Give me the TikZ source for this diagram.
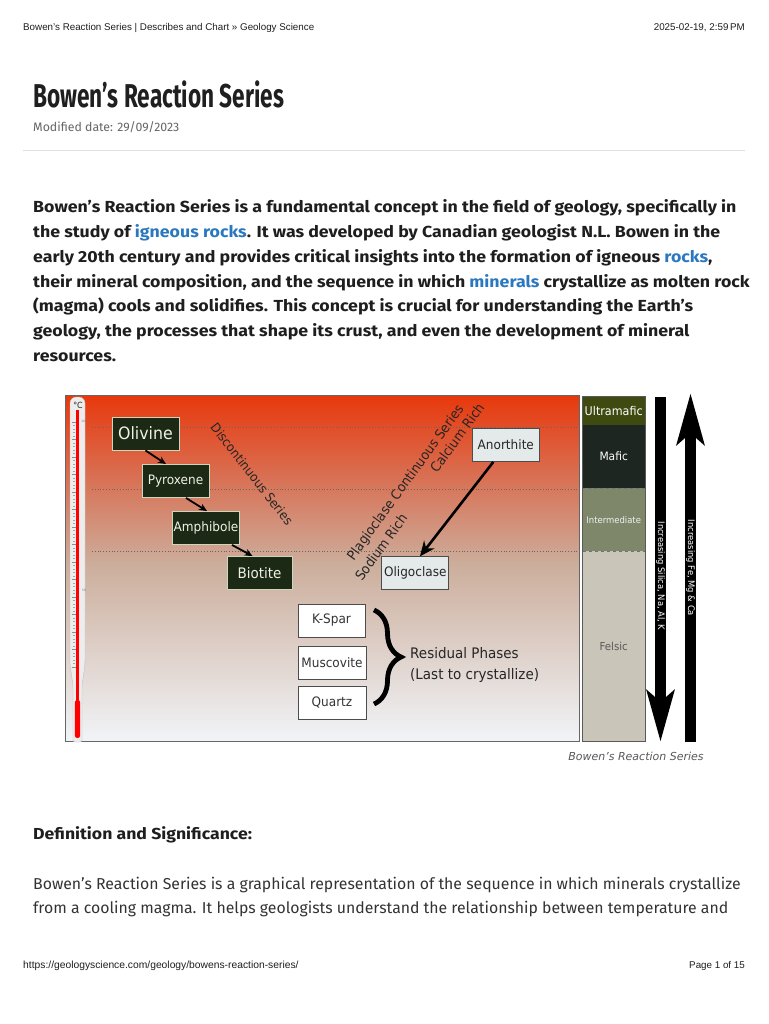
\documentclass[tikz,border=0pt]{standalone}
\usepackage{fontspec}
\usepackage{xcolor}
\setmainfont{Fira Sans}
\newfontfamily\introfont{Fira Sans}[FakeStretch=1.11]
\newfontfamily\headlinefont{Fira Sans}[FakeStretch=0.685]
\newfontfamily\printfont{Liberation Sans}
\newfontfamily\chartfont{DejaVu Sans}[FakeStretch=0.93]
\newfontfamily\captionfont{DejaVu Sans}
\usetikzlibrary{arrows.meta,decorations.pathreplacing}

\definecolor{linkblue}{HTML}{2A78BF}
\definecolor{inkgray}{HTML}{1E1E1E}
\definecolor{mossbox}{HTML}{1C2914}
\definecolor{mossline}{HTML}{CCD6BC}
\definecolor{mosstext}{HTML}{EEF2E6}
\definecolor{paleface}{HTML}{E4EAEA}
\definecolor{ultra}{HTML}{3E4A10}
\definecolor{ultraedge}{HTML}{93A046}
\definecolor{maficc}{HTML}{1D2621}
\definecolor{interc}{HTML}{7F876B}
\definecolor{felsicc}{HTML}{C9C5B9}
\definecolor{hot}{HTML}{E8380C}
\definecolor{warm}{HTML}{D87256}
\definecolor{tan}{HTML}{CCAE9C}
\definecolor{cool}{HTML}{F1F4F8}

\newcommand\chartsize[1]{\chartfont\fontsize{#1}{#1}\selectfont}

\begin{document}
\begin{tikzpicture}[x=1pt, y=-1pt,
    mineral/.style={draw=mossline, fill=mossbox, text=mosstext, line width=0.9pt,
        inner sep=0pt, minimum width=67pt, minimum height=33pt, font=\chartsize{13}},
    plagbox/.style={mineral, draw=black!70, fill=paleface, text=black!85},
    residual/.style={mineral, draw=black!70, fill=white, text=black!80},
    band/.style={anchor=north west, inner sep=0pt, minimum width=63pt},
    sink/.style={line width=1.8pt, -{Stealth[length=8pt, width=7pt]}},
    pagetext/.style={anchor=base west, inner sep=0pt}]

    % Page and its margins
    \fill[white] (0,0) rectangle (768,1024);
    \useasboundingbox (0,0) rectangle (768,1024);

    % Print header and footer
    \node[pagetext, font=\printfont\fontsize{9.8}{11}\selectfont, text=inkgray] (pagehead) at (23,31)
        {Bowen’s Reaction Series | Describes and Chart » Geology Science};
    \node[pagetext, anchor=base east, font=\printfont\fontsize{9.8}{11}\selectfont, text=inkgray] (stamp) at (745,31)
        {2025-02-19, 2:59\,PM};
    \node[pagetext, font=\printfont\fontsize{10.3}{11}\selectfont, text=inkgray] (pageurl) at (23,968)
        {https://geologyscience.com/geology/bowens-reaction-series/};
    \node[pagetext, anchor=base east, font=\printfont\fontsize{9.8}{11}\selectfont, text=inkgray] (pageno) at (745,968)
        {Page 1 of 15};

    % Title block
    \node[pagetext, font=\headlinefont\bfseries\fontsize{33}{36}\selectfont, text=black!88] (title) at (33,108)
        {Bowen’s Reaction Series};
    \node[pagetext, font=\fontsize{12.3}{14}\selectfont, text=black!60] (modified) at (33,131.5)
        {Modified date: 29/09/2023};
    \draw[black!12] (23,150) -- (745,150);

    % Intro paragraph
    \foreach \txt [count=\i] in {
        {Bowen’s Reaction Series is a fundamental concept in the field of geology, specifically in},
        {the study of \textcolor{linkblue}{igneous rocks}. It was developed by Canadian geologist N.L. Bowen in the},
        {early 20th century and provides critical insights into the formation of igneous \textcolor{linkblue}{rocks},},
        {their mineral composition, and the sequence in which \textcolor{linkblue}{minerals} crystallize as molten rock},
        {(magma) cools and solidifies. This concept is crucial for understanding the Earth’s},
        {geology, the processes that shape its crust, and even the development of mineral},
        {resources.}}
        \node[pagetext, font=\introfont\bfseries\fontsize{16}{18}\selectfont, text=inkgray] (intro\i) at (33,{213+24.67*(\i-1)}) {\txt};

    % Magma gradient panel
    \shade[top color=hot, bottom color=warm] (65,395) rectangle (579,480);
    \shade[top color=warm, bottom color=tan] (65,480) rectangle (579,565);
    \shade[top color=tan, bottom color=cool] (65,565) rectangle (579,741);
    \foreach \y in {427,489,551}
        \draw[black!60, dotted, line width=0.8pt] (92,\y) -- (579,\y);
    \draw[black!60, line width=1pt] (65,395) rectangle (579,741);

    % Thermometer
    \draw[fill=black!7, draw=black!25, rounded corners=6pt] (70,665) -- (70,397) -- (85,397) -- (85,665)
        [rounded corners=2pt] -- (82,685) -- (82,742) -- (73,742) -- (73,685) -- cycle;
    \foreach \i in {0,...,70}
        \draw[black!35, line width=0.4pt] (72.5,{422+3.5*\i}) -- (75,{422+3.5*\i});
    \foreach \i in {0,...,14}
        \draw[black!45, line width=0.5pt] (71.5,{422+17.5*\i}) -- (75.5,{422+17.5*\i});
    \draw[red, line width=3pt] (77.5,410) -- (77.5,702);
    \fill[red, rounded corners=2.5pt] (74.8,700) rectangle (80.2,738);
    \node[font=\chartsize{8.5}, text=black!85, inner sep=0pt] (degc) at (78,405) {°C};
    \node[font=\chartsize{3}, text=black!55, inner sep=0pt] (hundred) at (84,421) {100};
    \node[font=\chartsize{3}, text=black!55, inner sep=0pt] (fifty) at (84,590) {50};

    % Discontinuous series
    \node[mineral, font=\chartsize{17}] (olivine) at (145.5,433.5) {Olivine};
    \node[mineral] (pyroxene) at (175.5,481) {Pyroxene};
    \node[mineral] (amphibole) at (206,528) {Amphibole};
    \node[mineral, minimum width=65pt, font=\chartsize{14.5}] (biotite) at (259.5,573) {Biotite};
    \draw[sink] (olivine.south) -- ([xshift=-9.5pt]pyroxene.north);
    \draw[sink] ([xshift=10.5pt]pyroxene.south) -- ([xshift=1pt]amphibole.north);
    \draw[sink] ([xshift=26pt]amphibole.south) -- ([xshift=-7pt]biotite.north);
    \node[rotate=-52, font=\chartsize{12.8}, text=black!85] (discseries) at (252,474) {Discontinuous Series};

    % Continuous series
    \node[plagbox] (anorthite) at (505.8,445) {Anorthite};
    \node[plagbox] (oligoclase) at (415.3,573.3) {Oligoclase};
    \draw[line width=2.6pt, -{Stealth[length=15pt, width=13pt]}] ([xshift=-12.5pt]anorthite.south) -- ([xshift=4.7pt]oligoclase.north);
    \node[rotate=54, font=\chartsize{13.5}, text=black!85] (plagseries) at (406,483) {Plagioclase Continuous Series};
    \node[rotate=54, font=\chartsize{13.5}, text=black!85] (calcrich) at (457,438) {Calcium Rich};
    \node[rotate=54, font=\chartsize{13.5}, text=black!85] (sodrich) at (381,547) {Sodium Rich};

    % Residual phases
    \node[residual] (kspar) at (331.5,620.5) {K-Spar};
    \node[residual, minimum width=68pt] (muscovite) at (332,662.5) {Muscovite};
    \node[residual, minimum width=68pt] (quartz) at (332,702.5) {Quartz};
    \coordinate (bracetop) at (374,610);
    \coordinate (bracebot) at (374,704);
    \draw[decorate, decoration={brace, amplitude=27pt}, line width=4.8pt] (bracetop) -- (bracebot);
    \node[anchor=west, align=left, font=\chartfont\fontsize{14.5}{21}\selectfont, text=black!85, inner sep=0pt] (residtext) at (410,665)
        {Residual Phases\\(Last to crystallize)};

    % Rock type column
    \node[band, fill=ultra, draw=ultraedge, dashed, minimum height=29pt, text=white, font=\chartsize{12}] (ultramafic) at (582,396) {Ultramafic};
    \node[band, fill=maficc, minimum height=63pt, text=white!92, font=\chartsize{11.5}] (mafic) at (582,425) {Mafic};
    \node[band, fill=interc, draw=black!55, dashed, minimum height=63pt, text=white!88!interc, font=\chartsize{9.1}] (intermediate) at (582,488) {Intermediate};
    \node[band, fill=felsicc, draw=black!55, dashed, minimum height=190pt, text=black!65, font=\chartsize{11}] (felsic) at (582,551) {Felsic};
    \draw[black!65, line width=0.8pt] (ultramafic.north west) rectangle (felsic.south east);

    % Composition trends
    \coordinate (silicatop) at (660.5,397);
    \coordinate (silicabot) at (660.5,742);
    \coordinate (ironbot) at (690.5,742);
    \coordinate (irontop) at (690.5,393);
    \draw[line width=11pt, -{Stealth[length=51pt, width=27pt, inset=11pt]}] (silicatop) -- (silicabot);
    \draw[line width=11pt, -{Stealth[length=51pt, width=27pt, inset=11pt]}] (ironbot) -- (irontop);
    \node[rotate=-90, text=white, font=\chartsize{9}] (silicatext) at (660.5,576) {Increasing Silica, Na, Al, K};
    \node[rotate=-90, text=white, font=\chartsize{9}] (irontext) at (690.5,568) {Increasing Fe, Mg \& Ca};

    \node[font=\captionfont\itshape\fontsize{11}{13}\selectfont, text=black!65] (caption) at (636,756) {Bowen’s Reaction Series};

    % Next section
    \node[pagetext, font=\introfont\bfseries\fontsize{15.9}{17}\selectfont, text=inkgray] (defhead) at (33,839) {Definition and Significance:};
    \node[pagetext, font=\fontsize{15.8}{17}\selectfont, text=black!80] (defline1) at (33,889)
        {Bowen’s Reaction Series is a graphical representation of the sequence in which minerals crystallize};
    \node[pagetext, font=\fontsize{15.8}{17}\selectfont, text=black!80] (defline2) at (33,913)
        {from a cooling magma. It helps geologists understand the relationship between temperature and};
\end{tikzpicture}
\end{document}
